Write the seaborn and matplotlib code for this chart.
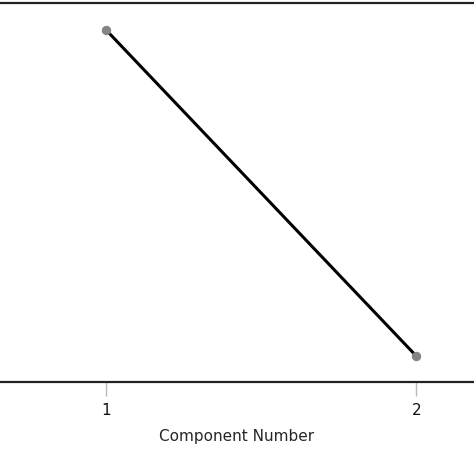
import matplotlib
matplotlib.use("Agg")
import matplotlib.pyplot as plt
import seaborn as sns
import pandas as pd

# Scree plot data (y axis is cropped out in the reference)
components = [1, 2]
eigenvalues = [1.4, 0.6]

df = pd.DataFrame({"component": components, "eigenvalue": eigenvalues})

sns.set_style("white")
plt.rcParams["font.family"] = ["Lucida Grande", "DejaVu Sans"]

fig = plt.figure(figsize=(4.74, 4.74), dpi=100)
# the axes run past the left and right edges of the figure, like the cropped original
ax = fig.add_axes([-0.1, 0.194, 1.2, 0.8])

sns.lineplot(data=df, x="component", y="eigenvalue", ax=ax, color="black",
             linewidth=2.2, marker="o", markersize=6,
             markerfacecolor="#808686", markeredgecolor="#808686")

ax.set_xlim(0.506, 2.339)
ax.set_ylim(0.536, 1.466)
ax.set_xticks(components)
ax.set_xticklabels([str(c) for c in components], fontsize=11)
ax.set_yticks([])
ax.set_xlabel("Component Number", fontsize=11, labelpad=8)
ax.set_ylabel("")

for side in ["left", "right"]:
    ax.spines[side].set_visible(False)
for side in ["top", "bottom"]:
    ax.spines[side].set_visible(True)
    ax.spines[side].set_color("#222222")
    ax.spines[side].set_linewidth(1.6)

ax.tick_params(axis="x", bottom=True, length=10, width=1, color="#bbbbbb",
               pad=5, labelcolor="#111111")

fig.savefig("out.png", dpi=100)
